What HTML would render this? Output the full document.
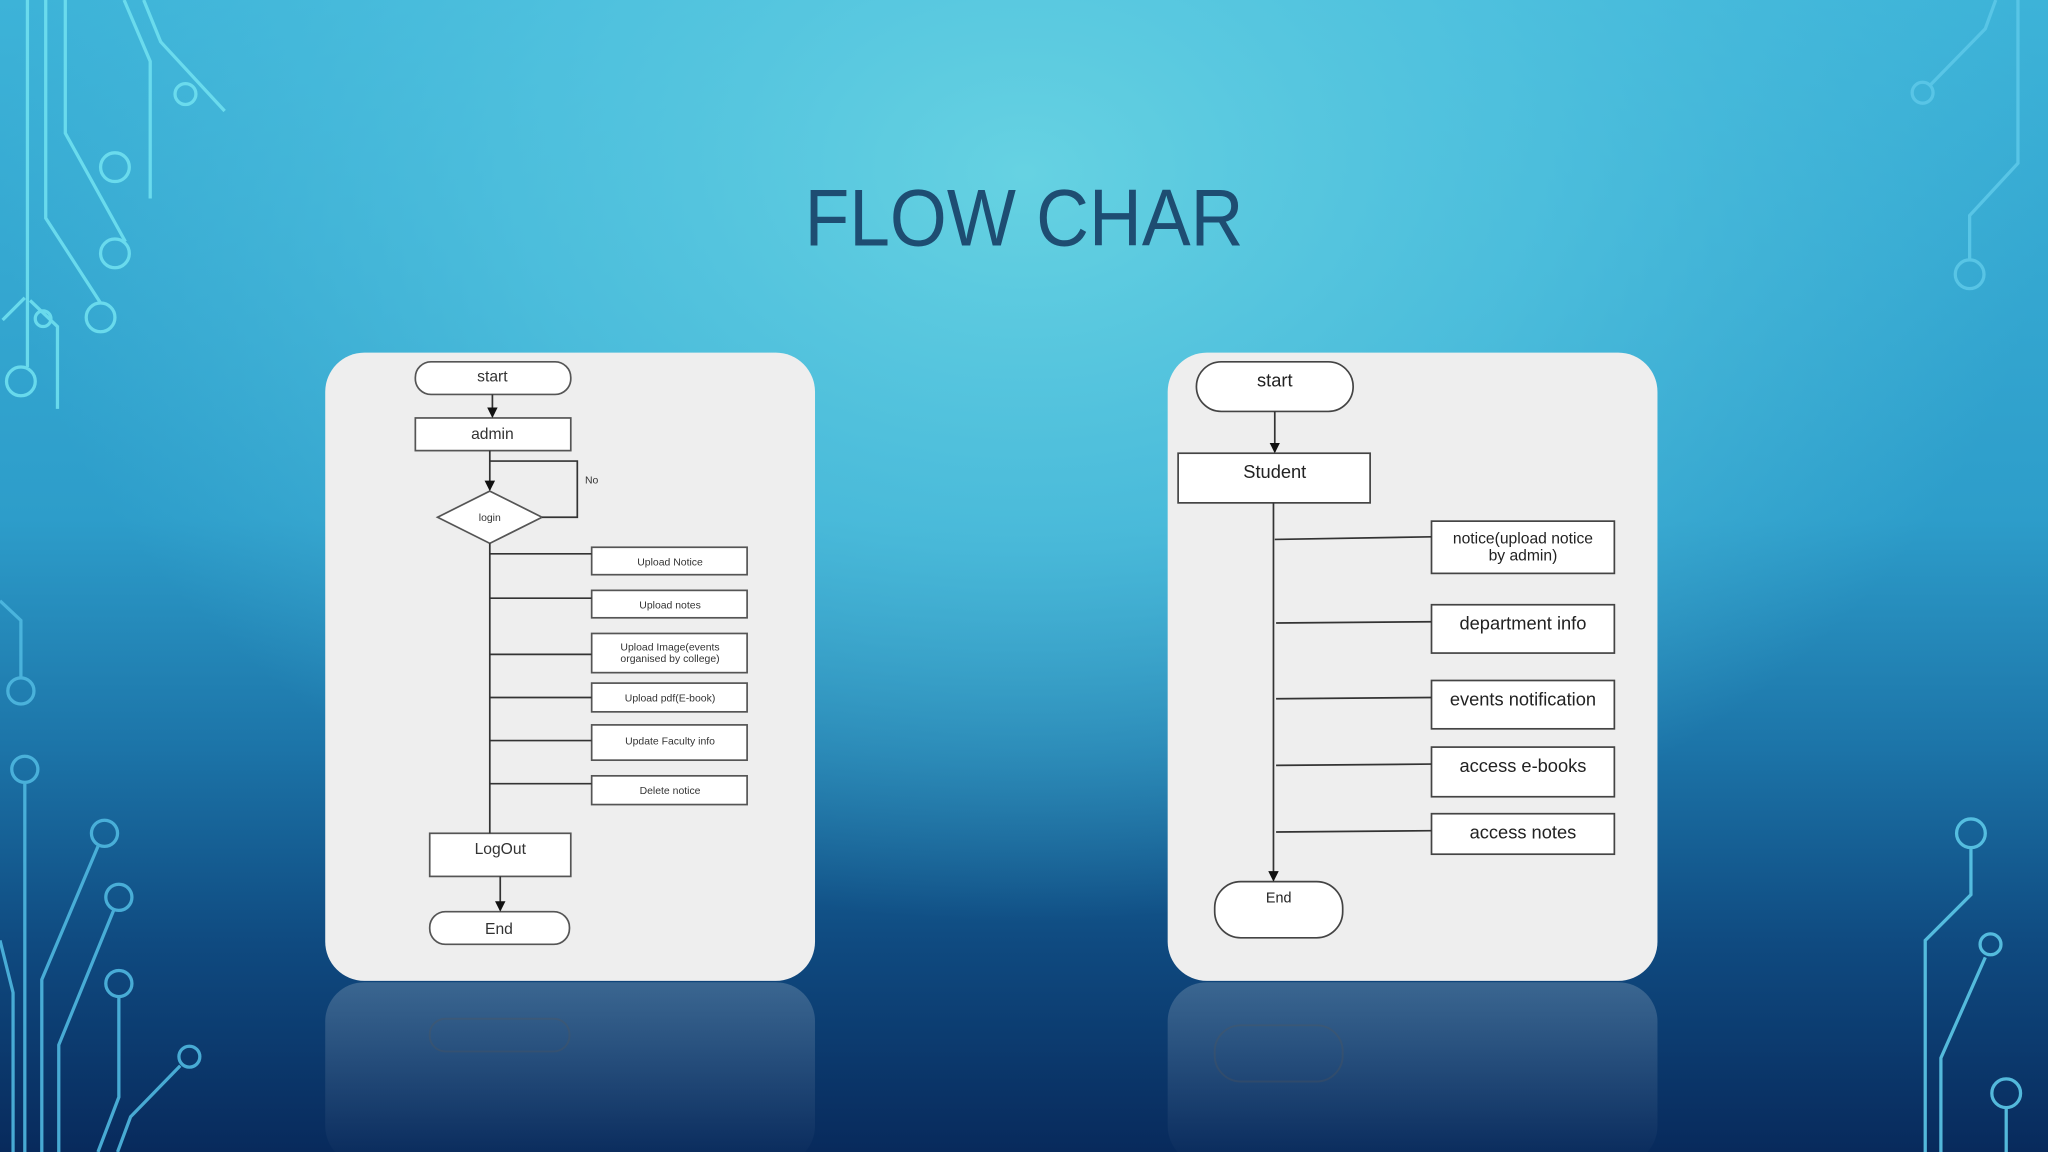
<!DOCTYPE html>
<html><head><meta charset="utf-8"><style>
html,body{margin:0;padding:0;width:2048px;height:1152px;overflow:hidden;background:#1a6a9a}
svg{display:block}
</style></head><body>
<svg width="2048" height="1152" viewBox="0 0 1568 882" xmlns="http://www.w3.org/2000/svg" font-family="Liberation Sans, sans-serif">
<defs>
<linearGradient id="bgv" x1="0" y1="0" x2="0" y2="1">
<stop offset="0" stop-color="#3db3d8"/>
<stop offset="0.45" stop-color="#2d9dca"/>
<stop offset="0.65" stop-color="#1c74a8"/>
<stop offset="0.82" stop-color="#0f4a80"/>
<stop offset="1" stop-color="#082a5c"/>
</linearGradient>
<radialGradient id="hl" cx="0.5" cy="0.15" r="0.5" gradientTransform="translate(0.5 0.15) scale(1 1.3) translate(-0.5 -0.15)">
<stop offset="0" stop-color="#66d2e2" stop-opacity="1"/>
<stop offset="0.5" stop-color="#55c6e0" stop-opacity="0.7"/>
<stop offset="1" stop-color="#4fc0de" stop-opacity="0"/>
</radialGradient>
<linearGradient id="refl" x1="0" y1="0" x2="0" y2="1">
<stop offset="0" stop-color="#eeeeee" stop-opacity="0.2"/>
<stop offset="1" stop-color="#eeeeee" stop-opacity="0"/>
</linearGradient>
<marker id="ar" markerWidth="8" markerHeight="8" refX="7" refY="4" orient="auto" markerUnits="userSpaceOnUse"><path d="M0,0 L8,4 L0,8 z" fill="#111"/></marker>
</defs>
<rect width="1568" height="882" fill="url(#bgv)"/>
<rect width="1568" height="882" fill="url(#hl)"/>
<!-- circuits left -->
<g fill="none" stroke="#6fe0f0" stroke-width="2.5" opacity="0.9">
<path d="M21,0 V281"/><circle cx="16" cy="292" r="11"/>
<path d="M35,0 V167 L77,232"/><circle cx="77" cy="243" r="11"/>
<path d="M50,0 V102 L96,185"/><circle cx="88" cy="194" r="11"/>
<path d="M95,0 L115,47 V152"/><circle cx="88" cy="128" r="11"/>
<path d="M110,0 L123,32 L172,85"/><circle cx="142" cy="72" r="8"/>
<path d="M23,230 L44,250 V313"/><circle cx="33" cy="244" r="6"/>
<path d="M2,245 L19,228"/>
</g>
<g fill="none" stroke="#4fb8e0" stroke-width="2.5" opacity="0.9">
<path d="M0,460 L16,475 V518"/><circle cx="16" cy="529" r="10"/>
<path d="M19,600 V882"/><circle cx="19" cy="589" r="10"/>
<path d="M0,720 L10,760 V882"/>
<path d="M75,648 L32,750 V882"/><circle cx="80" cy="638" r="10"/>
<path d="M87,697 L45,800 V882"/><circle cx="91" cy="687" r="10"/>
<path d="M91,764 V840 L75,882"/><circle cx="91" cy="753" r="10"/>
<path d="M138,816 L100,855 L90,882"/><circle cx="145" cy="809" r="8"/>
</g>
<!-- circuits right -->
<g fill="none" stroke="#5cc8e8" stroke-width="2.5" opacity="0.9">
<path d="M1528,0 L1520,22 L1478,65"/><circle cx="1472" cy="71" r="8"/>
<path d="M1545,0 V125 L1508,165 V199"/><circle cx="1508" cy="210" r="11"/>
<path d="M1509,649 V685 L1474,720 V882"/><circle cx="1509" cy="638" r="11"/>
<path d="M1520,733 L1486,810 V882"/><circle cx="1524" cy="723" r="8"/>
<path d="M1536,848 V882"/><circle cx="1536" cy="837" r="11"/>
</g>
<!-- title -->
<text x="784" y="188" font-size="62" fill="#1e4d72" text-anchor="middle" textLength="336" lengthAdjust="spacingAndGlyphs">FLOW CHAR</text>
<!-- reflections -->
<rect x="249" y="752" width="375" height="140" rx="30" fill="url(#refl)"/>
<rect x="894" y="752" width="375" height="140" rx="30" fill="url(#refl)"/>
<g fill="none" stroke="#555" stroke-width="1.5" opacity="0.3">
<rect x="329" y="780" width="107" height="25" rx="12"/>
<rect x="930" y="785" width="98" height="43" rx="20"/>
</g>
<!-- panels -->
<rect x="249" y="270" width="375" height="481" rx="30" fill="#eeeeee"/>
<rect x="894" y="270" width="375" height="481" rx="30" fill="#eeeeee"/>
<!-- left diagram -->
<g stroke="#555" stroke-width="1.3" fill="#fff">
<rect x="318" y="277" width="119" height="25" rx="12"/>
<rect x="318" y="320" width="119" height="25"/>
<polygon points="375,376 415,396 375,416 335,396"/>
<rect x="453" y="419" width="119" height="21"/>
<rect x="453" y="452" width="119" height="21"/>
<rect x="453" y="485" width="119" height="30"/>
<rect x="453" y="523" width="119" height="22"/>
<rect x="453" y="555" width="119" height="27"/>
<rect x="453" y="594" width="119" height="22"/>
<rect x="329" y="638" width="108" height="33"/>
<rect x="329" y="698" width="107" height="25" rx="12"/>
</g>
<g stroke="#333" stroke-width="1.3" fill="none">
<path d="M377,302 V319" marker-end="url(#ar)"/>
<path d="M375,345 V375" marker-end="url(#ar)"/>
<path d="M375,353 H442 V396 H415"/>
<path d="M375,416 V638"/>
<path d="M375,424 H453 M375,458 H453 M375,501 H453 M375,534 H453 M375,567 H453 M375,600 H453"/>
<path d="M383,671 V697" marker-end="url(#ar)"/>
</g>
<g fill="#333" text-anchor="middle">
<text x="377" y="292" font-size="12">start</text>
<text x="377" y="336" font-size="12">admin</text>
<text x="375" y="399" font-size="8">login</text>
<text x="453" y="370" font-size="8">No</text>
<text x="513" y="433" font-size="8">Upload Notice</text>
<text x="513" y="466" font-size="8">Upload notes</text>
<text x="513" y="498" font-size="8">Upload Image(events</text>
<text x="513" y="507" font-size="8">organised by college)</text>
<text x="513" y="537" font-size="8">Upload pdf(E-book)</text>
<text x="513" y="570" font-size="8">Update Faculty info</text>
<text x="513" y="608" font-size="8">Delete notice</text>
<text x="383" y="654" font-size="12">LogOut</text>
<text x="382" y="715" font-size="12">End</text>
</g>
<!-- right diagram -->
<g stroke="#444" stroke-width="1.3" fill="#fff">
<rect x="916" y="277" width="120" height="38" rx="19"/>
<rect x="902" y="347" width="147" height="38"/>
<rect x="1096" y="399" width="140" height="40"/>
<rect x="1096" y="463" width="140" height="37"/>
<rect x="1096" y="521" width="140" height="37"/>
<rect x="1096" y="572" width="140" height="38"/>
<rect x="1096" y="623" width="140" height="31"/>
<rect x="930" y="675" width="98" height="43" rx="20"/>
</g>
<g stroke="#333" stroke-width="1.3" fill="none">
<path d="M976,315 V346" marker-end="url(#ar)"/>
<path d="M975,385 V674" marker-end="url(#ar)"/>
<path d="M976,413 L1096,411 M977,477 L1096,476 M977,535 L1096,534 M977,586 L1096,585 M977,637 L1096,636"/>
</g>
<g fill="#222" text-anchor="middle">
<text x="976" y="296" font-size="14">start</text>
<text x="976" y="366" font-size="14">Student</text>
<text x="1166" y="416" font-size="12">notice(upload notice</text>
<text x="1166" y="429" font-size="12">by admin)</text>
<text x="1166" y="482" font-size="14">department info</text>
<text x="1166" y="540" font-size="14">events notification</text>
<text x="1166" y="591" font-size="14">access e-books</text>
<text x="1166" y="642" font-size="14">access notes</text>
<text x="979" y="691" font-size="11">End</text>
</g>
</svg>
</body></html>
